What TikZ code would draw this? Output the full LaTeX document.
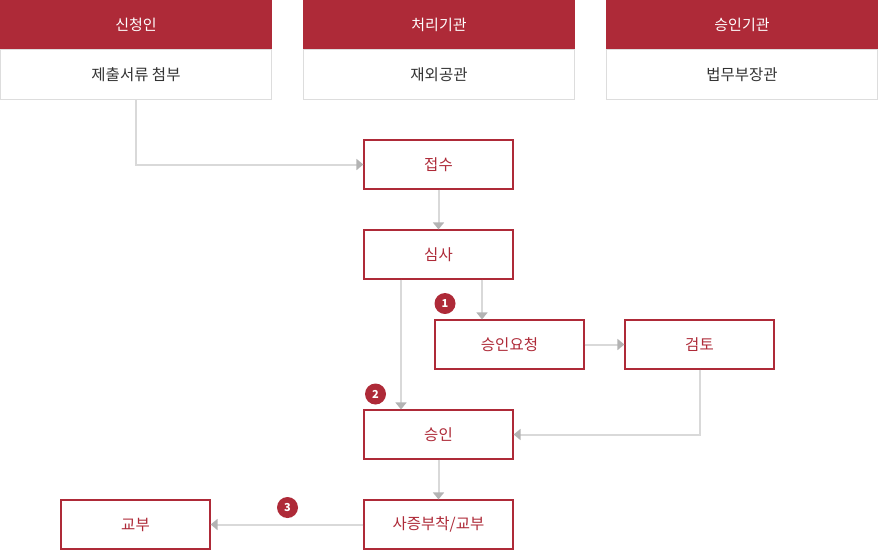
\documentclass[tikz,border=0pt]{standalone}
\usepackage{fontspec}
\setmainfont{Noto Sans CJK KR}
\usetikzlibrary{arrows.meta}
\definecolor{kred}{HTML}{AE2A38}
\definecolor{kline}{HTML}{D9D9D9}
\definecolor{ktip}{HTML}{B3B3B3}
\definecolor{kborder}{HTML}{DDDDDD}
\definecolor{ktext}{HTML}{333333}
\tikzset{
  headbox/.style={fill=kred,draw=none,minimum width=272pt,minimum height=49pt,inner sep=0pt,text=white,font=\fontsize{15}{17}\selectfont},
  descbox/.style={fill=white,draw=kborder,line width=1pt,minimum width=271pt,minimum height=50pt,inner sep=0pt,text=ktext,font=\fontsize{15.5}{17}\selectfont},
  stepbox/.style={draw=kred,line width=1.2pt,fill=white,minimum width=149pt,minimum height=49pt,inner sep=0pt,text=kred,font=\fontsize{15.5}{17}\selectfont},
  conn/.style={draw=kline,line width=2pt,-{Triangle[width=11pt,length=7pt,fill=ktip,color=ktip]}},
  numdot/.style={circle,fill=kred,minimum size=21pt,inner sep=0pt,text=white,font=\bfseries\fontsize{11}{12}\selectfont}
}
\begin{document}
\begin{tikzpicture}[x=1pt,y=-1pt]
\useasboundingbox (0,0) rectangle (878,550);
\node[headbox] (h1) at (136,24.5) {신청인};
\node[headbox] (h2) at (439,24.5) {처리기관};
\node[headbox] (h3) at (742,24.5) {승인기관};
\node[descbox] (d1) at (136,74.5) {제출서류 첨부};
\node[descbox] (d2) at (439,74.5) {재외공관};
\node[descbox] (d3) at (742,74.5) {법무부장관};

\node[stepbox] (jeopsu) at (438.5,164.5) {접수};
\node[stepbox] (simsa) at (438.5,254.5) {심사};
\node[stepbox] (yocheong) at (509.5,344.5) {승인요청};
\node[stepbox] (geomto) at (699.5,344.5) {검토};
\node[stepbox] (seungin) at (438.5,434.5) {승인};
\node[stepbox] (sajeung) at (438.5,524.5) {사증부착/교부};
\node[stepbox] (gyobu) at (135.5,524.5) {교부};

\draw[conn] (d1.south) |- (jeopsu.west);
\draw[conn] (jeopsu.south) -- (simsa.north);
\draw[conn] ([xshift=43.5pt]simsa.south) -- ([xshift=43.5pt]simsa.south |- yocheong.north);
\draw[conn] ([xshift=-37.5pt]simsa.south) -- ([xshift=-37.5pt]simsa.south |- seungin.north);
\draw[conn] (yocheong.east) -- (geomto.west);
\draw[conn] (geomto.south) |- (seungin.east);
\draw[conn] (seungin.south) -- (sajeung.north);
\draw[conn] (sajeung.west) -- (gyobu.east);

\node[numdot] (n1) at (445,303.5) {1};
\node[numdot] (n2) at (375.5,394) {2};
\node[numdot] (n3) at (287.5,507.5) {3};
\end{tikzpicture}
\end{document}
